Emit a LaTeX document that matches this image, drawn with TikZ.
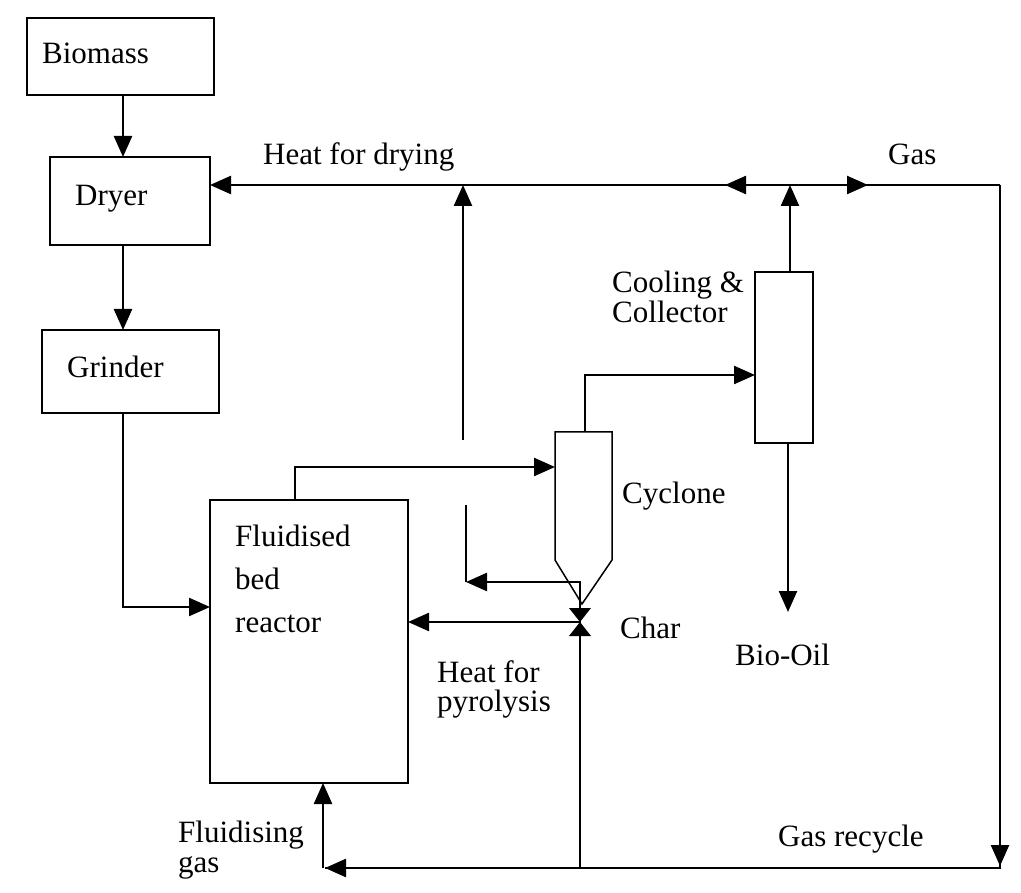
\documentclass[tikz,border=0pt]{standalone}
\usepackage{fontspec}
\setmainfont{Liberation Serif}
\usetikzlibrary{arrows.meta}
\begin{document}
\begin{tikzpicture}[x=1pt,y=-1pt,
  ln/.style={line width=2.4pt},
  box/.style={draw,line width=1.5pt},
  ar/.style={ln,-{Triangle[length=21pt,width=18pt]}},
  lab/.style={anchor=base west,inner sep=0pt,font=\fontsize{31}{31}\selectfont}]
\useasboundingbox (0,0) rectangle (1021,893);
% boxes
\draw[box] (27,18) rectangle (214,95);
\node[lab] (tb) at (42,64) {Biomass};
\draw[box] (50,157) rectangle (210,245);
\node[lab] (td) at (75,206) {Dryer};
\draw[box] (42,330) rectangle (219,413);
\node[lab] (tg) at (67,378) {Grinder};
\draw[box] (210,500) rectangle (408,783);
\node[lab] at (235,546) {Fluidised};
\node[lab] at (235,589) {bed};
\node[lab] at (235,632) {reactor};
\draw[box] (555,432) -- (612,432) -- (612,560) -- (582,604) -- (555,560) -- cycle;
\draw[box] (755,272) rectangle (813,443);
\coordinate (a1) at (123,95); \coordinate (a2) at (123,157);
\coordinate (b1) at (123,245); \coordinate (b2) at (123,330);
\draw[ar] (a1) -- (a2);
\draw[ar] (b1) -- (b2);
\draw[ar] (123,413) -- (123,607) -- (210,607);
\draw[ar] (295,500) -- (295,467) -- (555,467);
\draw[ar] (585,432) -- (585,375) -- (755,375);
\draw[ar] (790,272) -- (790,185);
\draw[ar] (1000,185) -- (210,185);
\draw[ln] (1000,185) -- (1000,868) -- (325,868);
\draw[ar] (920,868) -- (325,868);
\draw[ar] (1000,700) -- (1000,866);
\draw[ar] (323,868) -- (323,783);
\draw[ar] (770,185) -- (725,185);
\draw[ar] (820,185) -- (868,185);
\draw[ar] (463,440) -- (463,185);
\draw[ar] (580,604) -- (580,582) -- (466,582) ;
\draw[ln] (466,582) -- (466,505);
\draw[ln] (580,582) -- (580,868);
\draw[ar] (580,622) -- (408,622);
\draw[ar] (788,443) -- (788,612);
\fill (569,608) -- (591,608) -- (569,636) -- (591,636) -- cycle;
\node[lab] at (263,165) {Heat for drying};
\node[lab] at (888,165) {Gas};
\node[lab] at (612,293) {Cooling \&};
\node[lab] at (612,323) {Collector};
\node[lab] at (622,503) {Cyclone};
\node[lab] at (620,638) {Char};
\node[lab] at (735,665) {Bio-Oil};
\node[lab] at (437,682) {Heat for};
\node[lab] at (437,711) {pyrolysis};
\node[lab] at (178,842) {Fluidising};
\node[lab] at (178,872) {gas};
\node[lab] at (778,846) {Gas recycle};
\end{tikzpicture}
\end{document}
